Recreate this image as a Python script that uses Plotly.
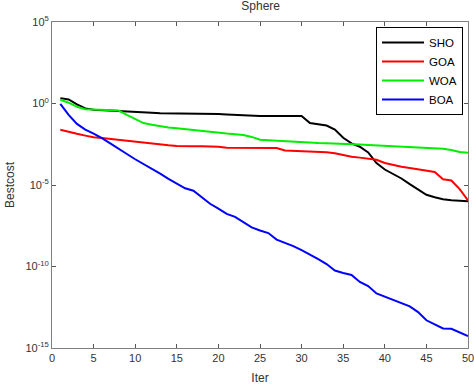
import plotly.graph_objects as go

iters = list(range(1, 51))

# log10(Bestcost)
sho_log10 = [0.33, 0.25, -0.05, -0.30, -0.38, -0.40, -0.43, -0.47, -0.48, -0.50,
             -0.52, -0.56, -0.60, -0.60, -0.60, -0.60, -0.60, -0.61, -0.63, -0.64,
             -0.67, -0.70, -0.74, -0.75, -0.76, -0.76, -0.76, -0.76, -0.76, -0.76,
             -1.20, -1.26, -1.35, -1.60, -2.10, -2.45, -2.65, -3.00, -3.65, -4.05,
             -4.30, -4.60, -4.95, -5.30, -5.60, -5.75, -5.88, -5.93, -5.98, -5.99]
goa_log10 = [-1.61, -1.75, -1.86, -1.97, -2.07, -2.12, -2.18, -2.24, -2.30, -2.33,
             -2.38, -2.45, -2.50, -2.56, -2.60, -2.63, -2.63, -2.63, -2.63, -2.66,
             -2.72, -2.72, -2.72, -2.72, -2.72, -2.72, -2.73, -2.88, -2.90, -2.93,
             -2.96, -2.99, -2.99, -3.05, -3.15, -3.27, -3.32, -3.38, -3.45, -3.65,
             -3.78, -3.88, -3.95, -4.02, -4.10, -4.20, -4.65, -4.72, -5.25, -5.95]
woa_log10 = [0.23, 0.05, -0.20, -0.35, -0.37, -0.39, -0.41, -0.43, -0.70, -0.95,
             -1.20, -1.30, -1.40, -1.47, -1.52, -1.58, -1.64, -1.70, -1.75, -1.80,
             -1.84, -1.88, -1.93, -2.05, -2.22, -2.25, -2.28, -2.33, -2.38, -2.41,
             -2.42, -2.43, -2.44, -2.45, -2.46, -2.48, -2.52, -2.55, -2.58, -2.61,
             -2.63, -2.65, -2.67, -2.70, -2.72, -2.75, -2.77, -2.85, -2.98, -3.02]
boa_log10 = [-0.02, -0.70, -1.25, -1.60, -1.85, -2.12, -2.45, -2.80, -3.10, -3.42,
             -3.70, -3.98, -4.30, -4.62, -4.90, -5.20, -5.35, -5.75, -6.15, -6.45,
             -6.77, -6.95, -7.25, -7.60, -7.79, -7.95, -8.35, -8.55, -8.75, -9.00,
             -9.25, -9.55, -9.85, -10.25, -10.40, -10.52, -10.95, -11.20, -11.65, -11.85,
             -12.05, -12.25, -12.45, -12.80, -13.30, -13.55, -13.80, -13.82, -14.05, -14.27]

series_names = ["SHO", "GOA", "WOA", "BOA"]
series_colors = ["#000000", "#ff0000", "#00ee00", "#0000ff"]
series_data = [sho_log10, goa_log10, woa_log10, boa_log10]

x_ticks = [0, 5, 10, 15, 20, 25, 30, 35, 40, 45, 50]
y_tick_exps = [-15, -10, -5, 0, 5]

fig = go.Figure()
for name, color, vals in zip(series_names, series_colors, series_data):
    fig.add_trace(go.Scatter(
        x=iters, y=[10 ** v for v in vals], mode="lines", name=name,
        line=dict(color=color, width=2)))

axis_common = dict(showline=True, linecolor="#808080", linewidth=1, mirror="ticks",
                   ticks="inside", ticklen=4, tickcolor="#555555", showgrid=False,
                   zeroline=False, automargin=False, ticklabeloverflow="allow",
                   tickfont=dict(family="Liberation Sans, Arial", size=11, color="#333333"))

fig.update_layout(
    width=474, height=385,
    margin=dict(l=52, r=6, t=22, b=37),
    paper_bgcolor="white", plot_bgcolor="white",
    font=dict(family="Liberation Sans, Arial", color="#222222"),
    title=dict(text="Sphere", x=0.55, xanchor="center", y=0.997, yanchor="top",
               font=dict(size=12, color="#333333")),
    xaxis=dict(range=[0, 50], tickvals=x_ticks, ticktext=[str(t) for t in x_ticks],
               title=dict(text="Iter", font=dict(size=12, color="#333333"), standoff=10),
               **axis_common),
    yaxis=dict(type="log", range=[-15, 5], tickvals=[10 ** e for e in y_tick_exps],
               ticktext=["10<sup>%d</sup>" % e for e in y_tick_exps],
               title=dict(text="Bestcost", font=dict(size=12, color="#333333"), standoff=8),
               **axis_common),
    legend=dict(x=0.988, y=0.985, xanchor="right", yanchor="top",
                bgcolor="white", bordercolor="#000000", borderwidth=1,
                font=dict(size=11.5, color="#000000"), itemwidth=42, tracegroupgap=0),
    showlegend=True,
)

fig.write_html("out.html", config={"displayModeBar": False},
               post_script="document.body.style.margin='0px';")
